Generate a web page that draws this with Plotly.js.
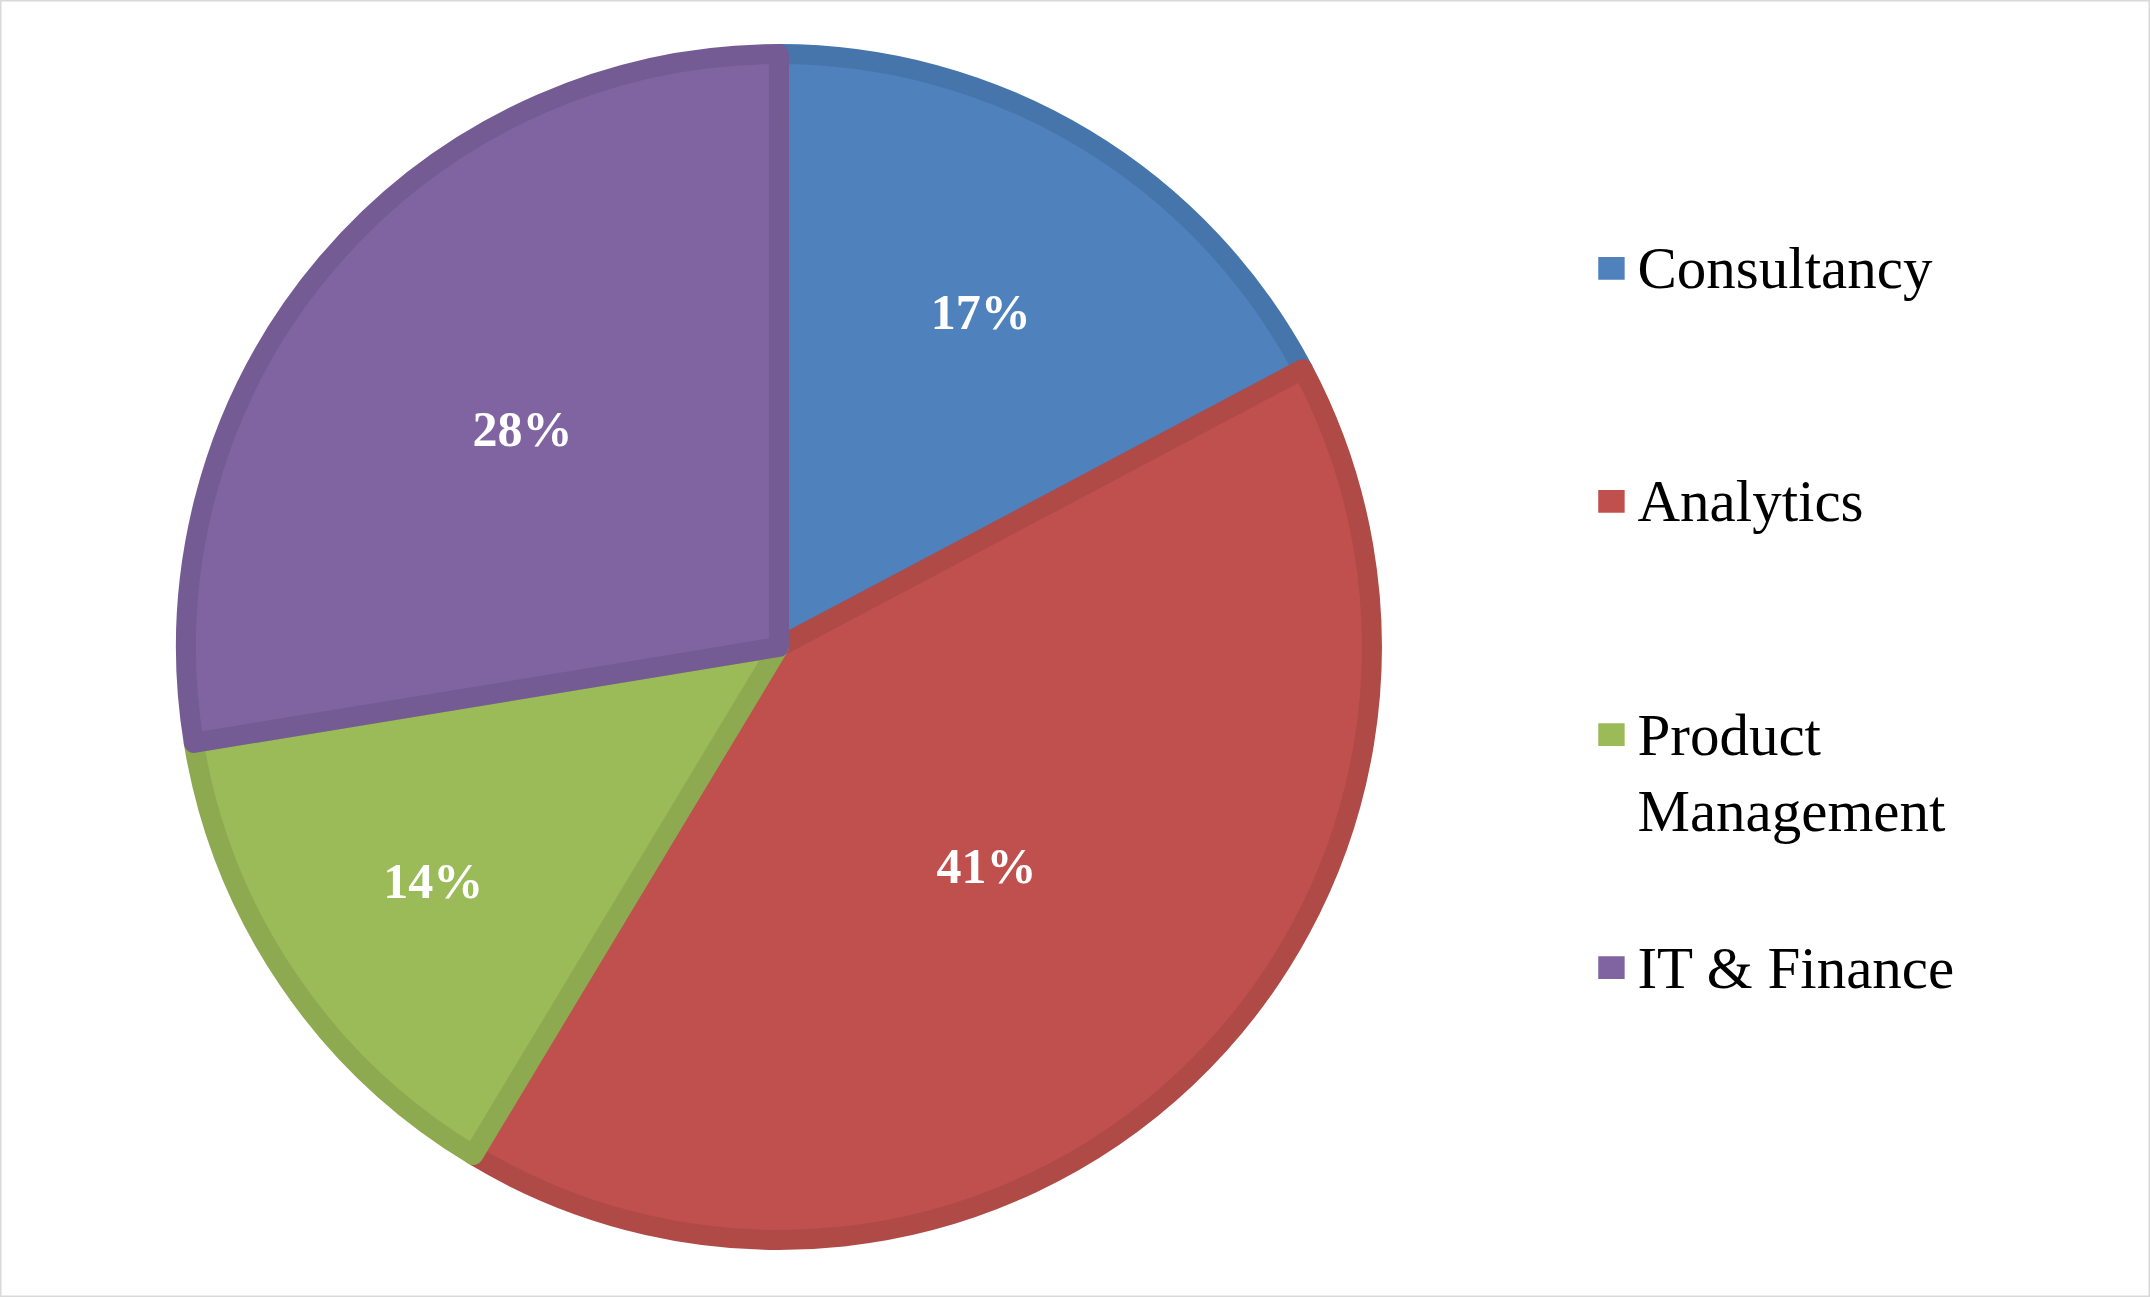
<!DOCTYPE html>
<html>
<head>
<meta charset="utf-8">
<script src="https://cdn.plot.ly/plotly-3.0.1.min.js"></script>
<style>
  html, body { margin: 0; padding: 0; background: #fff; }
  #myDiv { width: 2150px; height: 1297px; }
</style>
</head>
<body>
<div id="myDiv"></div>
<script>
const categories = ['Consultancy', 'Analytics', 'Product<br>Management', 'IT &amp; Finance'];
const counts = [5, 12, 4, 8];
const fillColors = ['#4F81BD', '#C0504D', '#9BBB59', '#8064A2'];
const edgeColors = ['#4675AC', '#B04A46', '#8DAA50', '#745B93'];

// extra blank lines so the legend entries spread out like the original
const legendLabels = categories.map(c => c.split('<br>').length > 1 ? c + '<br> ' : c + '<br> <br> ');

const pie = {
  type: 'pie',
  labels: legendLabels,
  values: counts,
  sort: false,
  direction: 'clockwise',
  rotation: 0,
  marker: {
    colors: fillColors,
    line: { color: edgeColors, width: 20 }
  },
  texttemplate: '%{percent:.0%}',
  textposition: 'inside',
  insidetextorientation: 'horizontal',
  textfont: { family: 'Liberation Serif', size: 50, color: '#ffffff', weight: 'bold' },
  hoverinfo: 'label+percent',
  domain: { x: [0.0865, 0.6381], y: [0.044, 0.9584] }
};

var layout = {
  width: 2150,
  height: 1297,
  margin: { l: 0, r: 0, t: 0, b: 0 },
  paper_bgcolor: '#ffffff',
  showlegend: true,
  legend: {
    x: 0.743,
    y: 0.83,
    xanchor: 'left',
    yanchor: 'top',
    valign: 'top',
    bgcolor: 'rgba(0,0,0,0)',
    font: { family: 'Liberation Serif', size: 59, color: '#000000' }
  },
  shapes: [{
    type: 'rect', xref: 'paper', yref: 'paper',
    x0: 0, x1: 1, y0: 0, y1: 1,
    line: { color: '#d9d9d9', width: 3 }
  }]
};

Plotly.newPlot('myDiv', [pie], layout, { staticPlot: true }).then(function() {
  // bigger legend swatches, no outline
  document.querySelectorAll('#myDiv .legendpie').forEach(function(p) {
    p.setAttribute('transform', 'translate(14,3) scale(2.2,1.9)');
    p.style.strokeWidth = '0';
  });
});
</script>
</body>
</html>
